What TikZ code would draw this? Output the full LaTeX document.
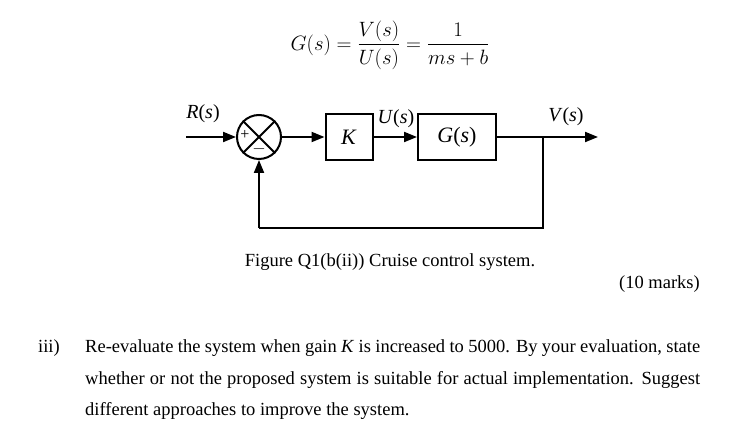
\documentclass[tikz,border=0pt]{standalone}
\usepackage{amsmath}
\usepackage{fontspec}
\setmainfont{Liberation Serif}
\usetikzlibrary{arrows.meta}
\begin{document}
\begin{tikzpicture}[x=1pt,y=-1pt,
  blk/.style={draw,line width=2pt,minimum height=46pt,inner sep=0pt},
  sig/.style={line width=2pt,-{Triangle[length=13pt,width=10pt]}},
  ln/.style={line width=2pt},
  txt/.style={font=\fontsize{18.5}{22}\selectfont,inner sep=0pt}]
\useasboundingbox (0,0) rectangle (740,427);
\node[font=\fontsize{20}{24}\selectfont,inner sep=0pt] (eq) at (390,45) {$G(s)=\dfrac{V(s)}{U(s)}=\dfrac{1}{ms+b}$};
\node[draw,circle,line width=2pt,minimum size=44pt,inner sep=0pt] (sum) at (259,137) {};
\draw[ln] (sum.north west) -- (sum.south east) (sum.north east) -- (sum.south west);
\node[font=\fontsize{16}{16}\selectfont,inner sep=0pt] (plus) at (245,135) {+};
\node[font=\fontsize{16}{16}\selectfont,inner sep=0pt] (minus) at (259,149) {$-$};
\node[blk,minimum width=47pt] (K) at (349,137) {};
\node[txt,font=\fontsize{22}{22}\selectfont] (Kt) at (349,137) {\textit{K}};
\node[blk,minimum width=78pt] (G) at (457,137) {};
\node[txt,font=\fontsize{22}{22}\selectfont] (Gt) at (457,137) {\textit{G}(\textit{s})};
\coordinate (in) at (186,137);
\coordinate (br) at (543,137);
\coordinate (out) at (598,137);
\coordinate (bl) at (543,228);
\coordinate (bs) at (259,228);
\draw[sig] (in) -- (sum);
\draw[sig] (sum) -- (K);
\draw[sig] (K) -- (G);
\draw[ln] (G) -- (br);
\draw[sig] (br) -- (out);
\draw[ln] (br) -- (bl) -- (bs);
\draw[sig] (bs) -- (sum);
\node[txt,font=\fontsize{20}{20}\selectfont] (R) at (203,114) {\textit{R}(\textit{s})};
\node[txt,font=\fontsize{20}{20}\selectfont] (U) at (396,119) {\textit{U}(\textit{s})};
\node[txt,font=\fontsize{20}{20}\selectfont] (V) at (566,117) {\textit{V}(\textit{s})};
\node[txt] (cap) at (390,262) {Figure Q1(b(ii)) Cruise control system.};
\node[txt,anchor=east] (marks) at (700,284) {(10 marks)};
\node[txt,anchor=west] (iii) at (38,348) {iii)};
\node[txt,anchor=west] (l1) at (85,348) {\makebox[615pt][s]{Re-evaluate the system when gain \textit{K} is increased to 5000. By your evaluation, state}};
\node[txt,anchor=west] (l2) at (85,380) {\makebox[615pt][s]{whether or not the proposed system is suitable for actual implementation. Suggest}};
\node[txt,anchor=west] (l3) at (85,411) {different approaches to improve the system.};
\end{tikzpicture}
\end{document}
